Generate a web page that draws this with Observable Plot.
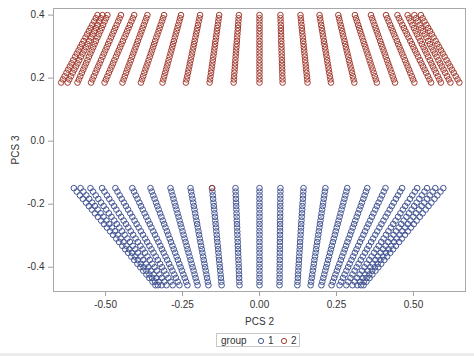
<!DOCTYPE html>
<html><head><meta charset="utf-8">
<script src="https://cdn.jsdelivr.net/npm/d3@7"></script>
<script src="https://cdn.jsdelivr.net/npm/@observablehq/plot@0.6"></script>
<style>
body{margin:0;background:#fff;font-family:"Liberation Sans",Arial,sans-serif;}
#wrap{position:relative;width:474px;height:356px;overflow:hidden;background:#fff;}
#band{position:absolute;left:0;top:353px;width:474px;height:3px;background:#ebebeb;}
#legend{position:absolute;left:216px;top:333px;width:84px;height:14px;border:1px solid #c8c8c8;box-sizing:border-box;font-size:10px;color:#333;}
#legend span{position:absolute;top:0px;line-height:13px;}
#legend svg{position:absolute;top:3px;}
</style></head><body><div id="wrap"><div id="band"></div></div><script>
// Ray geometry (PCS 2 at the top and bottom row of each ray), left to right
const group2TopX = [-0.526,-0.510,-0.494,-0.450,-0.407,-0.364,-0.310,-0.255,-0.193,-0.131,-0.067,0,
                    0.068,0.133,0.195,0.256,0.310,0.362,0.411,0.448,0.481,0.503,0.524];
const group2BottomX = [-0.644,-0.623,-0.591,-0.547,-0.503,-0.445,-0.385,-0.315,-0.239,-0.162,-0.084,0,
                    0.075,0.156,0.232,0.308,0.381,0.440,0.503,0.557,0.589,0.620,0.649];
const group2Levels = [0.400,0.390,0.380,0.369,0.359,0.349,0.339,0.329,0.318,0.308,0.298,
                      0.288,0.278,0.268,0.257,0.247,0.237,0.227,0.217,0.206,0.196,0.186];
const group1TopX = [-0.603,-0.581,-0.549,-0.511,-0.468,-0.413,-0.354,-0.289,-0.224,-0.154,-0.078,0,
                    0.068,0.143,0.214,0.285,0.350,0.409,0.463,0.512,0.544,0.571,0.597];
const group1BottomX = [-0.338,-0.330,-0.318,-0.302,-0.282,-0.260,-0.234,-0.201,-0.166,-0.123,-0.065,0,
                    0.065,0.123,0.166,0.201,0.234,0.260,0.282,0.302,0.318,0.330,0.338];
const group1Levels = [-0.149,-0.160,-0.172,-0.183,-0.195,-0.206,-0.217,-0.229,-0.240,-0.252,
                      -0.263,-0.274,-0.286,-0.297,-0.309,-0.320,-0.332,-0.343,-0.354,-0.366,
                      -0.377,-0.389,-0.400,-0.411,-0.423,-0.434,-0.446,-0.457];
const group2ExtraX = [-0.154];
const group2ExtraY = [-0.149];
const xTicks = [-0.5,-0.25,0,0.25,0.5];
const yTicks = [-0.4,-0.2,0,0.2,0.4];
const groups = ["1","2"];
const colors = ["#445694","#A23A2E"];

function rays(topX, botX, levels, group) {
  const yT = levels[0], yB = levels[levels.length-1];
  const pts = [];
  topX.forEach((xt, i) => {
    const xb = botX[i];
    levels.forEach(y => {
      const t = (yT - y) / (yT - yB);
      pts.push({x: xt + (xb - xt) * t, y, group});
    });
  });
  return pts;
}
const g1 = rays(group1TopX, group1BottomX, group1Levels, "1");
const g2 = rays(group2TopX, group2BottomX, group2Levels, "2")
  .concat(group2ExtraX.map((x, i) => ({x, y: group2ExtraY[i], group: "2"})));

const chart = Plot.plot({
  width: 474, height: 330,
  marginLeft: 53, marginRight: 9, marginTop: 8, marginBottom: 39,
  style: {fontFamily: '"Liberation Sans", Arial, sans-serif', fontSize: "10px", color: "#333", background: "#fff"},
  x: {domain: [-0.669, 0.669]},
  y: {domain: [-0.477, 0.421]},
  color: {domain: groups, range: colors},
  marks: [
    Plot.dot(g1, {x: "x", y: "y", r: 2.8, stroke: "group", strokeWidth: 1, fill: "none"}),
    Plot.dot(g2, {x: "x", y: "y", r: 2.8, stroke: "group", strokeWidth: 1, fill: "none"}),
    Plot.frame({stroke: "#a8a8a8"}),
    Plot.axisX({ticks: xTicks, tickFormat: d => d.toFixed(2), tickSize: 5, stroke: "#a0a0a0", fill: "#333",
      label: "PCS 2", labelAnchor: "center", labelArrow: "none", labelOffset: 33}),
    Plot.axisY({ticks: yTicks, tickFormat: d => d.toFixed(1), tickSize: 5, stroke: "#a0a0a0", fill: "#333",
      label: "PCS 3", labelAnchor: "center", labelArrow: "none", labelOffset: 42})
  ]
});
const wrap = document.getElementById("wrap");
wrap.insertBefore(chart, wrap.firstChild);

const legend = document.createElement("div");
legend.id = "legend";
legend.innerHTML =
  `<span style="left:4px">group</span>` +
  `<svg width="8" height="8" style="left:40px"><circle cx="4" cy="4" r="2.6" fill="none" stroke="${colors[0]}"/></svg>` +
  `<span style="left:51px">${groups[0]}</span>` +
  `<svg width="8" height="8" style="left:63px"><circle cx="4" cy="4" r="2.6" fill="none" stroke="${colors[1]}"/></svg>` +
  `<span style="left:74px">${groups[1]}</span>`;
wrap.appendChild(legend);
</script></body></html>
